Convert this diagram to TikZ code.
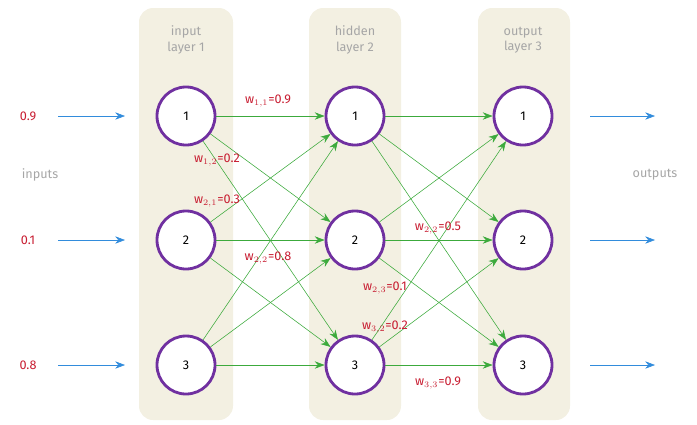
\documentclass[tikz,border=0pt]{standalone}
\usepackage{fontspec}
\setmainfont{Fira Sans}
\usetikzlibrary{arrows.meta}

\definecolor{panel}{RGB}{243,240,226}
\definecolor{ring}{RGB}{112,48,160}
\definecolor{wred}{RGB}{200,30,50}
\definecolor{link}{RGB}{60,170,60}
\definecolor{feed}{RGB}{50,140,220}

\tikzstyle{layer} = [fill=panel,rounded corners=10pt]
\tikzstyle{neuron} = [draw=ring,line width=2pt,circle,minimum size=1.45cm,fill=white,font=\small]
\tikzstyle{weight} = [text=wred,font=\small,inner sep=1pt]
\tikzstyle{title} = [text=gray!70,align=center,font=\small]

\begin{document}
\begin{tikzpicture}[x=0.025cm,y=-0.025cm]
  \useasboundingbox (0,0) rectangle (697,424);
  \fill[layer] (139,8) rectangle (233,420);
  \fill[layer] (309,8) rectangle (401,420);
  \fill[layer] (478,8) rectangle (570,420);

  \node[title] at (186,40) (t1) {input\\layer 1};
  \node[title] at (355,40) (t2) {hidden\\layer 2};
  \node[title] at (523,40) (t3) {output\\layer 3};
  \node[title] at (40,175) (in)  {inputs};
  \node[title] at (655,175) (out) {outputs};

  % neurons
  \foreach \i/\y in {1/116,2/240,3/365} {
    \node[neuron] at (186,\y) (a\i) {\i};
    \node[neuron] at (355,\y) (b\i) {\i};
    \node[neuron] at (523,\y) (c\i) {\i};
  }

  % links between layers
  \foreach \i in {1,2,3} {
    \foreach \j in {1,2,3} {
      \draw[link,-{Stealth[length=7pt]}] (a\i) -- (b\j);
      \draw[link,-{Stealth[length=7pt]}] (b\i) -- (c\j);
    }
  }

  % inputs and outputs
  \foreach \i/\y/\v in {1/116/0.9,2/240/0.1,3/365/0.8} {
    \node[weight] at (28,\y) (v\i) {\v};
    \coordinate (s\i) at (58,\y);
    \coordinate (e\i) at (125,\y);
    \coordinate (o\i) at (590,\y);
    \coordinate (f\i) at (655,\y);
    \draw[feed,-{Stealth[length=7pt]}] (s\i) -- (e\i);
    \draw[feed,-{Stealth[length=7pt]}] (o\i) -- (f\i);
  }

  \node[weight] at (268,101) (w11) {w$_{1,1}$=0.9};
  \node[weight] at (217,160) (w12) {w$_{1,2}$=0.2};
  \node[weight] at (217,201) (w21) {w$_{2,1}$=0.3};
  \node[weight] at (268,258) (w22) {w$_{2,2}$=0.8};
  \node[weight] at (438,228) (v22) {w$_{2,2}$=0.5};
  \node[weight] at (385,288) (v23) {w$_{2,3}$=0.1};
  \node[weight] at (385,327) (v32) {w$_{3,2}$=0.2};
  \node[weight] at (438,383) (v33) {w$_{3,3}$=0.9};
\end{tikzpicture}
\end{document}
